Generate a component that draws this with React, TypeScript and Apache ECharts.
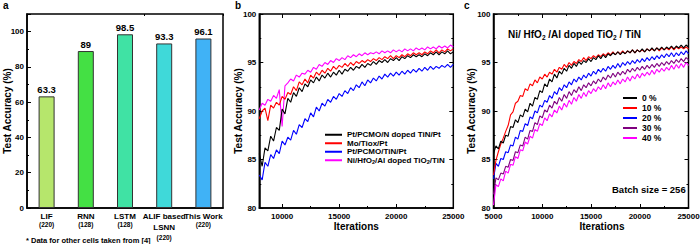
import React, { useEffect, useRef } from "react";
import * as echarts from "echarts";

// ---------- Panel a ----------
const barCategories = ["LIF", "RNN", "LSTM", "ALIF based\nLSNN", "This Work"];
const barSizes = ["(220)", "(128)", "(128)", "(220)", "(220)"];
const barValues = [63.3, 89, 98.5, 93.3, 96.1];
const barColors = ["#b6e66c", "#44e044", "#40e2a4", "#3fd9d9", "#40b2f6"];
const aYTicks = { min: 0, max: 110, interval: 20 };

// ---------- Panel b ----------
const bStart = 8000;
const bStep = 250;
const bNames = [
  "Pt/PCMO/N doped TiN/Pt",
  "Mo/Tiox/Pt",
  "Pt/PCMO/TiN/Pt",
  "Ni/HfO2/Al doped TiO2/TiN",
];
const bColors = ["#000000", "#ff0000", "#0000ff", "#ff00ff"];
const bBlack = [
  85.6, 84.3, 86.2, 85.9, 87.4, 86.9, 88.3, 88.0, 90.2, 89.7, 91.3, 90.9, 91.9, 91.5, 92.4, 92.0,
  92.8, 92.5, 93.2, 92.9, 93.5, 93.1, 93.7, 93.4, 93.9, 93.5, 94.0, 93.7, 94.2, 93.8, 94.3, 94.1,
  94.5, 94.2, 94.6, 94.4, 94.8, 94.5, 94.9, 94.7, 95.1, 94.8, 95.2, 95.0, 95.3, 95.0, 95.4, 95.2,
  95.5, 95.2, 95.6, 95.4, 95.7, 95.5, 95.8, 95.6, 95.8, 95.6, 95.9, 95.7, 96.0, 95.8, 96.1, 95.8,
  96.1, 95.9, 96.2, 95.9, 96.1,
];
const bRed = [
  89.2, 90.0, 90.3, 89.0, 90.6, 90.3, 90.9, 90.6, 91.5, 91.2, 91.9, 91.7, 92.5, 92.1, 93.0, 92.7,
  93.3, 92.9, 93.7, 93.4, 94.0, 93.7, 94.2, 93.9, 94.4, 94.1, 94.6, 94.3, 94.7, 94.5, 94.9, 94.6,
  95.0, 94.7, 95.1, 94.9, 95.2, 95.0, 95.3, 95.1, 95.4, 95.2, 95.5, 95.3, 95.6, 95.4, 95.7, 95.4,
  95.7, 95.5, 95.8, 95.6, 95.9, 95.7, 96.0, 95.8, 96.0, 95.8, 96.1, 95.9, 96.2, 96.0, 96.3, 96.0,
  96.3, 96.1, 96.4, 96.2, 96.4,
];
const bBlue = [
  83.4, 82.9, 84.7, 84.3, 85.5, 85.1, 86.0, 85.6, 86.9, 86.5, 87.3, 87.0, 88.0, 87.6, 88.6, 88.3,
  89.2, 88.9, 89.8, 89.4, 90.4, 90.0, 90.8, 90.5, 91.2, 90.9, 91.5, 91.2, 91.8, 91.5, 92.1, 91.8,
  92.4, 92.1, 92.7, 92.4, 93.0, 92.6, 93.2, 92.9, 93.4, 93.1, 93.6, 93.3, 93.8, 93.5, 93.9, 93.6,
  94.0, 93.7, 94.1, 93.8, 94.2, 93.9, 94.3, 94.0, 94.4, 94.1, 94.5, 94.2, 94.6, 94.3, 94.6, 94.4,
  94.7, 94.5, 94.8, 94.5, 94.8,
];
const bMagenta = [
  90.1, 90.8, 90.6, 91.2, 91.0, 91.6, 91.3, 92.2, 88.4, 92.6, 92.9, 93.3, 93.1, 93.7, 93.5, 93.9,
  93.8, 94.2, 94.0, 94.5, 94.3, 94.8, 94.6, 95.0, 94.8, 95.2, 95.0, 95.4, 95.2, 95.5, 95.3, 95.7,
  95.5, 95.8, 95.6, 95.9, 95.7, 96.0, 95.8, 96.0, 95.9, 96.1, 95.9, 96.2, 96.0, 96.2, 96.0, 96.3,
  96.1, 96.3, 96.1, 96.4, 96.2, 96.4, 96.2, 96.5, 96.3, 96.5, 96.3, 96.6, 96.4, 96.6, 96.4, 96.7,
  96.5, 96.7, 96.5, 96.8, 96.6,
];
const bSeries = [bBlack, bRed, bBlue, bMagenta];
const bMajorTicks = [10000, 15000, 20000, 25000];
const bMinorTicks = [12500, 17500, 22500];

// ---------- Panel c ----------
const cStart = 5000;
const cStep = 250;
const cNames = ["0 %", "10 %", "20 %", "30 %", "40 %"];
const cColors = ["#000000", "#ff0000", "#0000ff", "#800080", "#ff00ff"];
const c0 = [
  85.6, 86.4, 86.1, 86.9, 86.7, 87.5, 87.4, 88.4, 88.3, 89.1, 88.8, 89.6, 89.4, 90.2, 89.9, 90.8,
  90.5, 91.4, 91.2, 92.1, 91.9, 92.8, 92.5, 93.3, 93.0, 93.8, 93.4, 94.1, 93.8, 94.4, 94.1, 94.7,
  94.4, 94.9, 94.6, 95.1, 94.8, 95.2, 95.0, 95.4, 95.1, 95.5, 95.3, 95.7, 95.4, 95.8, 95.5, 95.9,
  95.7, 96.0, 95.8, 96.1, 95.8, 96.1, 95.9, 96.2, 96.0, 96.3, 96.0, 96.3, 96.1, 96.4, 96.1, 96.4,
  96.2, 96.5, 96.2, 96.5, 96.3, 96.6, 96.3, 96.6, 96.4, 96.7, 96.4, 96.7, 96.5, 96.8, 96.5, 96.8,
  96.6,
];
const c10 = [
  83.4, 84.9, 85.8, 86.6, 87.2, 87.9, 88.5, 89.6, 89.9, 90.8, 91.0, 91.6, 91.5, 92.3, 92.1, 92.8,
  92.6, 93.2, 92.9, 93.5, 93.3, 93.8, 93.5, 94.0, 93.8, 94.3, 94.0, 94.5, 94.3, 94.8, 94.5, 95.0,
  94.7, 95.1, 94.9, 95.3, 95.1, 95.5, 95.2, 95.6, 95.4, 95.7, 95.5, 95.8, 95.6, 95.9, 95.7, 96.0,
  95.8, 96.1, 95.8, 96.1, 95.9, 96.2, 95.9, 96.2, 96.0, 96.3, 96.0, 96.3, 96.1, 96.3, 96.1, 96.4,
  96.2, 96.4, 96.2, 96.5, 96.2, 96.5, 96.3, 96.5, 96.3, 96.6, 96.3, 96.6, 96.4, 96.6, 96.4, 96.6,
  96.4,
];
const c20 = [
  83.0, 84.6, 84.3, 85.1, 85.0, 85.8, 85.7, 86.5, 86.4, 87.3, 87.1, 88.0, 87.9, 88.7, 88.5, 89.4,
  89.2, 90.0, 89.8, 90.6, 90.4, 91.1, 90.9, 91.6, 91.3, 92.0, 91.7, 92.4, 92.1, 92.7, 92.4, 93.0,
  92.7, 93.3, 93.0, 93.5, 93.2, 93.7, 93.4, 93.9, 93.6, 94.1, 93.8, 94.3, 94.0, 94.4, 94.1, 94.6,
  94.3, 94.7, 94.4, 94.9, 94.5, 95.0, 94.7, 95.1, 94.8, 95.2, 94.9, 95.3, 95.0, 95.4, 95.1, 95.5,
  95.2, 95.6, 95.3, 95.7, 95.4, 95.8, 95.5, 95.9, 95.6, 96.0, 95.6, 96.0, 95.7, 96.1, 95.8, 96.2,
  95.9,
];
const c30 = [
  81.4, 83.1, 82.9, 83.6, 83.5, 84.3, 84.2, 85.0, 84.9, 85.8, 85.7, 86.5, 86.4, 87.3, 87.1, 88.0,
  87.9, 88.8, 88.6, 89.5, 89.3, 90.1, 89.9, 90.6, 90.3, 91.0, 90.7, 91.4, 91.0, 91.7, 91.3, 92.0,
  91.6, 92.2, 91.9, 92.5, 92.1, 92.7, 92.4, 92.9, 92.6, 93.1, 92.8, 93.3, 93.0, 93.5, 93.2, 93.7,
  93.4, 93.9, 93.5, 94.0, 93.7, 94.1, 93.8, 94.3, 94.0, 94.4, 94.1, 94.5, 94.2, 94.6, 94.3, 94.7,
  94.4, 94.8, 94.5, 94.9, 94.6, 95.0, 94.7, 95.1, 94.8, 95.2, 94.9, 95.3, 95.0, 95.4, 95.1, 95.5,
  95.3,
];
const c40 = [
  80.3, 82.4, 82.2, 83.0, 82.8, 83.8, 83.6, 84.5, 84.4, 85.3, 85.1, 86.0, 85.9, 86.8, 86.6, 87.4,
  87.2, 88.1, 87.9, 88.7, 88.5, 89.3, 89.0, 89.7, 89.4, 90.1, 89.8, 90.5, 90.1, 90.8, 90.4, 91.1,
  90.7, 91.4, 91.0, 91.7, 91.3, 91.9, 91.5, 92.1, 91.8, 92.3, 92.0, 92.5, 92.2, 92.7, 92.3, 92.9,
  92.5, 93.0, 92.7, 93.2, 92.8, 93.3, 93.0, 93.5, 93.1, 93.6, 93.3, 93.8, 93.4, 93.9, 93.6, 94.0,
  93.7, 94.2, 93.8, 94.3, 94.0, 94.4, 94.1, 94.5, 94.2, 94.7, 94.3, 94.8, 94.4, 94.9, 94.5, 95.0,
  94.7,
];
const cSeries = [c0, c10, c20, c30, c40];

const FONT = "'Liberation Sans', Arial, Helvetica, sans-serif";
const BLACK = "#000";

const toPairs = (vals: number[], start: number, step: number) =>
  vals.map((v, i) => [start + i * step, v]);

const plain = (v: number) => String(v);

export default function App() {
  const ref = useRef<HTMLDivElement>(null);

  useEffect(() => {
    if (!ref.current) return;
    const chart = echarts.init(ref.current, null, { renderer: "svg" });

    const tickLabel = { fontSize: 8, fontWeight: "bold", fontFamily: FONT, color: BLACK, formatter: plain };
    const axisLine = { show: true, lineStyle: { color: BLACK, width: 1.5 } };
    const nameStyle = { fontSize: 10, fontWeight: "bold", fontFamily: FONT, color: BLACK };

    const grids = [
      { left: 27, top: 14, width: 196, height: 194 },
      { left: 259.3, top: 14, width: 194, height: 194 },
      { left: 493.5, top: 14, width: 195, height: 194 },
    ].map((g) => ({
      ...g,
      show: true,
      borderColor: BLACK,
      borderWidth: 1.5,
      backgroundColor: "transparent",
      containLabel: false,
      outerBoundsMode: "none",
    }));

    const mirrorX = (gridIndex: number, min: number, max: number, vals: number[], len: number, pos: string) => ({
      type: "value",
      gridIndex,
      min,
      max,
      position: pos,
      axisLine: { show: false },
      axisLabel: { show: false, customValues: vals },
      axisTick: { show: true, inside: true, length: len, customValues: vals, lineStyle: { color: BLACK, width: 1 } },
      splitLine: { show: false },
    });

    const xAxes: any[] = [
      // panel a
      {
        type: "category",
        gridIndex: 0,
        data: barCategories,
        axisLine,
        axisTick: { show: true, inside: true, alignWithLabel: true, length: 4, lineStyle: { color: BLACK, width: 1 } },
        axisLabel: {
          interval: 0,
          hideOverlap: false,
          margin: 3,
          color: BLACK,
          formatter: (v: string, i: number) => {
            const lines = v.split("\n");
            const parts = lines.map((l, k) => (k === 0 ? `{n|${l}}` : `{m|${l}}`));
            return parts.join("\n") + `\n{s|${barSizes[i]}}`;
          },
          rich: {
            n: { fontSize: 8, fontWeight: "bold", fontFamily: FONT, color: BLACK, lineHeight: 10 },
            m: { fontSize: 8, fontWeight: "bold", fontFamily: FONT, color: BLACK, lineHeight: 13 },
            s: { fontSize: 6.5, fontWeight: "bold", fontFamily: FONT, color: BLACK, lineHeight: 7 },
          },
        },
      },
      {
        type: "category",
        gridIndex: 0,
        data: barCategories,
        axisLine: { show: false },
        axisLabel: { show: false },
        axisTick: { show: true, inside: true, length: 2, lineStyle: { color: BLACK, width: 1 } },
      },
      // panel b
      {
        type: "value",
        gridIndex: 1,
        min: 8000,
        max: 25000,
        axisLine,
        axisLabel: { ...tickLabel, margin: 4, customValues: bMajorTicks },
        axisTick: { show: true, inside: true, length: 4, customValues: bMajorTicks, lineStyle: { color: BLACK, width: 1 } },
        splitLine: { show: false },
        name: "Iterations",
        nameLocation: "middle",
        nameGap: 13.5,
        nameMoveOverlap: false,
        nameTextStyle: { ...nameStyle },
      },
      mirrorX(1, 8000, 25000, bMinorTicks, 2, "bottom"),
      mirrorX(1, 8000, 25000, bMajorTicks, 4, "top"),
      mirrorX(1, 8000, 25000, bMinorTicks, 2, "top"),
      // panel c
      {
        type: "value",
        gridIndex: 2,
        min: 5000,
        max: 25000,
        interval: 5000,
        axisLine,
        axisLabel: { ...tickLabel, margin: 4 },
        axisTick: { show: true, inside: true, length: 4, lineStyle: { color: BLACK, width: 1 } },
        minorTick: { show: true, splitNumber: 2, length: 2, lineStyle: { color: BLACK, width: 1 } },
        splitLine: { show: false },
        name: "Iterations",
        nameLocation: "middle",
        nameGap: 13.5,
        nameMoveOverlap: false,
        nameTextStyle: { ...nameStyle, padding: [0, 0, 0, 22] },
      },
      {
        type: "value",
        gridIndex: 2,
        min: 5000,
        max: 25000,
        interval: 5000,
        position: "top",
        axisLine: { show: false },
        axisLabel: { show: false },
        axisTick: { show: true, inside: true, length: 4, lineStyle: { color: BLACK, width: 1 } },
        minorTick: { show: true, splitNumber: 2, length: 2, lineStyle: { color: BLACK, width: 1 } },
        splitLine: { show: false },
      },
    ];

    const yMain = (gridIndex: number, min: number, max: number, interval: number, gap: number) => ({
      type: "value",
      gridIndex,
      min,
      max,
      interval,
      axisLine,
      axisLabel: { ...tickLabel, margin: 3, showMaxLabel: gridIndex === 0 ? false : true },
      axisTick: { show: true, inside: true, length: 4, lineStyle: { color: BLACK, width: 1 } },
      minorTick: { show: true, splitNumber: 2, length: 2, lineStyle: { color: BLACK, width: 1 } },
      splitLine: { show: false },
      name: "Test Accuracy (%)",
      nameLocation: "middle",
      nameGap: gap,
      nameMoveOverlap: false,
      nameTextStyle: nameStyle,
    });
    const yMirror = (gridIndex: number, min: number, max: number, interval: number) => ({
      type: "value",
      gridIndex,
      min,
      max,
      interval,
      position: "right",
      axisLine: { show: false },
      axisLabel: { show: false },
      axisTick: { show: true, inside: true, length: 4, lineStyle: { color: BLACK, width: 1 } },
      minorTick: { show: true, splitNumber: 2, length: 2, lineStyle: { color: BLACK, width: 1 } },
      splitLine: { show: false },
    });

    const yAxes: any[] = [
      yMain(0, aYTicks.min, aYTicks.max, aYTicks.interval, 15),
      yMain(1, 80, 100, 5, 16),
      yMirror(1, 80, 100, 5),
      yMain(2, 80, 100, 5, 17),
      yMirror(2, 80, 100, 5),
    ];

    const series: any[] = [
      {
        type: "bar",
        xAxisIndex: 0,
        yAxisIndex: 0,
        barWidth: 16,
        data: barValues.map((v, i) => ({
          value: v,
          itemStyle: { color: barColors[i], borderColor: "#333", borderWidth: 1 },
        })),
        label: {
          show: true,
          position: "top",
          distance: 2,
          fontSize: 9.5,
          fontWeight: "bold",
          fontFamily: FONT,
          color: BLACK,
        },
      },
      ...bSeries.map((vals, k) => ({
        type: "line",
        name: bNames[k],
        xAxisIndex: 2,
        yAxisIndex: 1,
        data: toPairs(vals, bStart, bStep),
        showSymbol: false,
        symbol: "none",
        lineStyle: { color: bColors[k], width: 1.1 },
        itemStyle: { color: bColors[k] },
        z: k === 3 ? 1 : 2,
      })),
      ...cSeries.map((vals, k) => ({
        type: "line",
        name: cNames[k],
        xAxisIndex: 6,
        yAxisIndex: 3,
        data: toPairs(vals, cStart, cStep),
        showSymbol: false,
        symbol: "none",
        lineStyle: { color: cColors[k], width: 1.1 },
        itemStyle: { color: cColors[k] },
        z: 5 - k,
      })),
    ];

    const legendText = {
      fontSize: 8,
      fontWeight: "bold",
      fontFamily: FONT,
      color: BLACK,
    };

    chart.setOption({
      animation: false,
      backgroundColor: "#fff",
      grid: grids,
      xAxis: xAxes,
      yAxis: yAxes,
      series,
      legend: [
        {
          data: bNames,
          left: 325,
          top: 130.5,
          orient: "vertical",
          icon: "rect",
          itemWidth: 17,
          itemHeight: 2,
          itemGap: 0,
          padding: 0,
          selectedMode: false,
          formatter: (n: string) => n.replace(/O2/g, "O{sub|2}"),
          textStyle: {
            ...legendText,
            lineHeight: 8.5,
            rich: { sub: { fontSize: 5.5, fontWeight: "bold", fontFamily: FONT, color: BLACK, padding: [4, 0, 0, 0] } },
          },
        },
        {
          data: cNames,
          left: 623,
          top: 93,
          orient: "vertical",
          icon: "rect",
          itemWidth: 14,
          itemHeight: 2,
          itemGap: 0,
          padding: 0,
          selectedMode: false,
          textStyle: { ...legendText, fontSize: 8.5, lineHeight: 10 },
        },
      ],
      graphic: [
        { type: "text", x: 3, y: 0, style: { text: "a", fontSize: 10, fontWeight: "bold", fontFamily: FONT, fill: BLACK } },
        { type: "text", x: 235, y: 0, style: { text: "b", fontSize: 10, fontWeight: "bold", fontFamily: FONT, fill: BLACK } },
        { type: "text", x: 464, y: 0, style: { text: "c", fontSize: 10, fontWeight: "bold", fontFamily: FONT, fill: BLACK } },
        {
          type: "text",
          x: 26,
          y: 236,
          style: { text: "* Data for other cells taken from [4]", fontSize: 7.5, fontWeight: "bold", fontFamily: FONT, fill: BLACK },
        },
        {
          type: "text",
          x: 508,
          y: 28,
          style: {
            text: "{t|Ni/ HfO}{sub|2}{t| /Al doped TiO}{sub|2}{t| / TiN}",
            rich: {
              t: { fontSize: 10, fontWeight: "bold", fontFamily: FONT, color: BLACK },
              sub: { fontSize: 6.5, fontWeight: "bold", fontFamily: FONT, color: BLACK, padding: [6, 0, 0, 0] },
            },
          },
        },
        {
          type: "text",
          x: 612,
          y: 184.5,
          style: { text: "Batch size = 256", fontSize: 9.5, fontWeight: "bold", fontFamily: FONT, fill: BLACK },
        },
      ],
    });

    return () => chart.dispose();
  }, []);

  return (
    <div
      ref={ref}
      style={{ position: "fixed", left: 0, top: 0, width: 700, height: 244, background: "#fff" }}
    />
  );
}
